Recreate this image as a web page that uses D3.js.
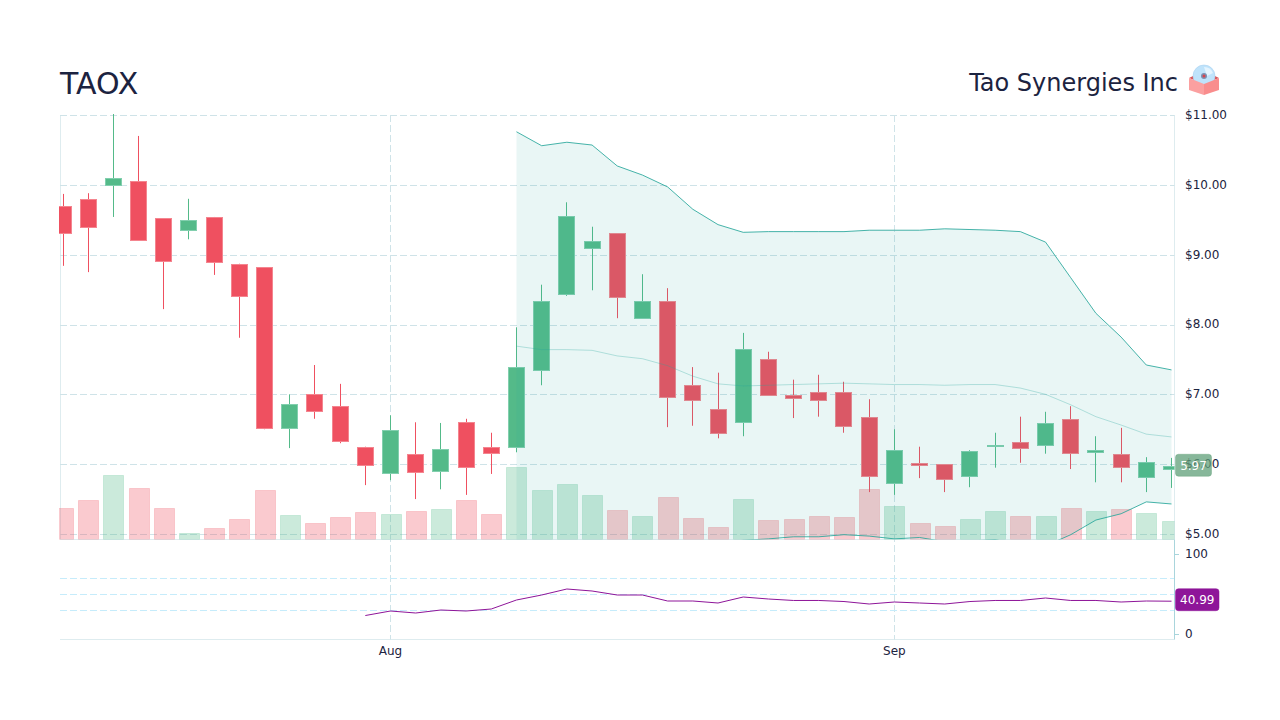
<!DOCTYPE html>
<html>
<head>
<meta charset="utf-8">
<script src="https://cdn.jsdelivr.net/npm/d3@7/dist/d3.min.js"></script>
<style>
html,body{margin:0;padding:0;background:#fff}
svg{display:block;font-family:"DejaVu Sans",sans-serif}
</style>
</head>
<body>
<svg id="chart" width="1280" height="720"></svg>
<script>
const ticker = "TAOX";
const companyName = "Tao Synergies Inc";

// Daily sessions, oldest first
const openPrice  = [9.70,9.80,10.00,10.05,9.52,9.35,9.54,8.87,8.82,6.52,7.00,6.83,6.25,5.87,6.15,5.90,6.60,6.25,6.25,7.35,8.44,9.10,9.31,8.09,8.34,7.13,6.79,6.60,7.51,6.99,7.03,7.03,6.68,5.73,6.02,6.00,5.83,6.25,6.32,6.27,6.65,6.17,6.15,5.82,5.93];
const highPrice  = [9.87,9.88,11.02,10.70,9.52,9.80,9.54,8.87,8.82,7.00,7.42,7.15,6.25,6.70,6.60,6.59,6.65,6.45,7.96,8.57,9.75,9.40,9.31,8.72,8.52,7.39,7.31,7.88,7.61,7.21,7.28,7.18,6.93,6.50,6.25,6.00,6.20,6.45,6.68,6.75,6.83,6.40,6.52,6.10,6.09];
const lowPrice   = [8.84,8.75,9.54,9.20,8.22,9.22,8.71,7.81,6.50,6.23,6.65,6.30,5.70,5.77,5.50,5.64,5.56,5.86,6.17,7.13,8.41,8.49,8.09,8.09,6.53,6.55,6.37,6.40,7.00,6.66,6.68,6.45,5.60,5.56,5.80,5.60,5.67,5.95,6.02,6.15,5.93,5.74,5.74,5.60,5.66];
const closePrice = [9.31,9.40,10.10,9.21,8.91,9.50,8.90,8.41,6.52,6.86,6.75,6.33,5.99,6.49,5.89,6.22,5.95,6.16,7.39,8.34,9.55,9.20,8.39,8.34,6.96,6.92,6.45,7.65,7.00,6.95,6.92,6.55,5.83,6.20,5.99,5.79,6.19,6.27,6.23,6.59,6.16,6.20,5.96,6.03,5.97];
const volume = [310,390,640,510,310,60,110,200,490,240,160,220,270,250,280,300,390,250,720,490,550,440,290,230,420,210,120,400,190,200,230,220,500,330,160,130,200,280,230,230,310,280,300,260,180];

// Bollinger bands, available from the 19th session on
const bandStart = 18;
const bandUpper  = [10.76,10.56,10.61,10.57,10.27,10.14,9.97,9.65,9.43,9.32,9.33,9.33,9.33,9.33,9.35,9.35,9.35,9.37,9.36,9.35,9.33,9.18,8.67,8.16,7.82,7.42,7.35];
const bandMiddle = [7.69,7.64,7.64,7.63,7.55,7.51,7.41,7.26,7.15,7.12,7.13,7.14,7.15,7.16,7.15,7.14,7.14,7.13,7.14,7.14,7.09,7.00,6.85,6.68,6.56,6.43,6.39];
const bandLower  = [4.63,4.71,4.67,4.68,4.83,4.87,4.84,4.87,4.87,4.91,4.93,4.96,4.96,4.99,4.97,4.93,4.95,4.89,4.90,4.92,4.84,4.83,4.99,5.20,5.29,5.46,5.43];

// RSI, available from the 13th session on
const rsiStart = 12;
const rsi = [23.1,28.75,26.25,30,28.75,31.25,42.5,48.75,56.25,53.75,48.75,48.75,41.25,41.25,38.75,46.25,43.75,41.9,41.9,40.6,37.5,40,38.75,37.5,40.6,41.9,41.9,45,41.9,41.9,40,41.25,40.99];

const priceTicks = [5,6,7,8,9,10,11];
const rsiTicks = [0,100];
const rsiGuides = [30,50,70];
const monthTickIndex = [13,33];
const monthTickLabels = ["Aug","Sep"];

const textColor = "#1c2340";
const up = "#54ba89", down = "#ef5060";

const svg = d3.select("#chart");
const idx = d3.range(closePrice.length);
const plotLeft = 60, plotRight = 1174.5, plotTop = 115, mainBottom = 539.5, lowBottom = 639.5;

const x = d3.scaleLinear().domain([0, closePrice.length - 1]).range([63, 1171.5]);
const y = d3.scaleLinear().domain([5, 11]).range([534, 115]);
const yVol = d3.scaleLinear().domain([0, 720]).range([539, 467]);
const yRsi = d3.scaleLinear().domain([0, 100]).range([634, 554]);
const isUp = i => closePrice[i] >= openPrice[i];
const snap = v => Math.round(v) + .5;

const defs = svg.append("defs");
defs.append("clipPath").attr("id", "mainClip").append("rect")
  .attr("x", 59).attr("y", 114).attr("width", plotRight - 59).attr("height", mainBottom - 114);

// Title row
svg.append("text").attr("x", 60).attr("y", 94).attr("font-size", 30)
  .attr("fill", textColor).text(ticker);
svg.append("text").attr("x", 1178).attr("y", 91).attr("font-size", 24)
  .attr("text-anchor", "end").attr("fill", textColor).text(companyName);

// Disc-in-a-box logo
const logo = svg.append("g");
logo.append("path").attr("d", "M1189 78 L1194 75.5 L1204 82 L1214 75.5 L1219 78 L1204 84 Z").attr("fill", "#d9565a");
logo.append("circle").attr("cx", 1204).attr("cy", 76).attr("r", 11)
  .attr("fill", "#bfe3fb").attr("stroke", "#a9d2f0").attr("stroke-width", 0.6);
logo.append("path").attr("d", "M1204 67 A9.5 9.5 0 0 1 1213 73 L1207 76 Z").attr("fill", "#e4f4fe");
logo.append("circle").attr("cx", 1204).attr("cy", 76).attr("r", 3).attr("fill", "#7d8fb0");
logo.append("circle").attr("cx", 1204).attr("cy", 76).attr("r", 1.5).attr("fill", "#d8434c");
logo.append("path").attr("d", "M1189 78 L1204 84 L1204 95 L1189 90 Z").attr("fill", "#fba0a0");
logo.append("path").attr("d", "M1219 78 L1204 84 L1204 95 L1219 90 Z").attr("fill", "#f98d8d");

// Frame
const frameColor = "#deecef";
svg.append("line").attr("x1", plotLeft + .5).attr("x2", plotLeft + .5).attr("y1", plotTop).attr("y2", mainBottom).attr("stroke", frameColor);
svg.append("line").attr("x1", plotRight).attr("x2", plotRight).attr("y1", plotTop).attr("y2", mainBottom).attr("stroke", frameColor);
svg.append("line").attr("x1", plotLeft).attr("x2", plotRight).attr("y1", mainBottom).attr("y2", mainBottom).attr("stroke", frameColor);
svg.append("line").attr("x1", plotLeft).attr("x2", plotRight).attr("y1", lowBottom).attr("y2", lowBottom).attr("stroke", frameColor);

// Grid
const gridColor = "#cfe3e8";
svg.append("g").selectAll("line").data(priceTicks).join("line")
  .attr("x1", plotLeft).attr("x2", plotRight)
  .attr("y1", d => Math.round(y(d)) + .5).attr("y2", d => Math.round(y(d)) + .5)
  .attr("stroke", gridColor).attr("stroke-dasharray", "7 3");
svg.append("g").selectAll("line").data(monthTickIndex).join("line")
  .attr("x1", d => Math.floor(x(d)) + .5).attr("x2", d => Math.floor(x(d)) + .5)
  .attr("y1", plotTop).attr("y2", lowBottom)
  .attr("stroke", gridColor).attr("stroke-dasharray", "7 3");
svg.append("g").selectAll("line").data(rsiGuides).join("line")
  .attr("x1", plotLeft).attr("x2", plotRight)
  .attr("y1", d => Math.round(yRsi(d)) + .5).attr("y2", d => Math.round(yRsi(d)) + .5)
  .attr("stroke", "#c6ecfb").attr("stroke-dasharray", "7 3");

const main = svg.append("g").attr("clip-path", "url(#mainClip)");

// Volume
const volW = 20;
main.append("g").selectAll("rect").data(idx).join("rect")
  .attr("x", i => Math.round(x(i) - volW / 2) + .5).attr("width", volW)
  .attr("y", i => snap(yVol(volume[i]))).attr("height", i => Math.round(yVol(0) - yVol(volume[i])))
  .attr("fill", i => isUp(i) ? up : down).attr("fill-opacity", .3)
  .attr("stroke", i => isUp(i) ? up : down).attr("stroke-opacity", .22);

// Candles
const bodyW = 16;
main.append("g").selectAll("line").data(idx).join("line")
  .attr("x1", i => Math.floor(x(i)) + .5).attr("x2", i => Math.floor(x(i)) + .5)
  .attr("y1", i => y(highPrice[i])).attr("y2", i => y(lowPrice[i]))
  .attr("stroke", i => isUp(i) ? up : down).attr("stroke-width", 1);
main.append("g").selectAll("rect").data(idx).join("rect")
  .attr("x", i => Math.floor(x(i)) - bodyW / 2 + .5).attr("width", bodyW)
  .attr("y", i => snap(y(Math.max(openPrice[i], closePrice[i]))))
  .attr("height", i => Math.max(1, Math.round(Math.abs(y(openPrice[i]) - y(closePrice[i])))))
  .attr("fill", i => isUp(i) ? up : down)
  .attr("stroke", i => isUp(i) ? "#82cfae" : "#f4858f").attr("stroke-width", 1);

// Bollinger band overlay
const bandIdx = d3.range(bandUpper.length);
const bandX = k => x(bandStart + k);
main.append("path")
  .attr("d", d3.area().x(bandX).y0(k => y(bandLower[k])).y1(k => y(bandUpper[k]))(bandIdx))
  .attr("fill", "#26a69a").attr("fill-opacity", .1);
const bandLine = vals => d3.line().x(bandX).y(k => y(vals[k]))(bandIdx);
main.append("path").attr("d", bandLine(bandUpper)).attr("fill", "none").attr("stroke", "#26a69a").attr("stroke-opacity", .85);
main.append("path").attr("d", bandLine(bandLower)).attr("fill", "none").attr("stroke", "#26a69a").attr("stroke-opacity", .85);
main.append("path").attr("d", bandLine(bandMiddle)).attr("fill", "none").attr("stroke", "#26a69a").attr("stroke-opacity", .3);

// RSI
svg.append("path")
  .attr("d", d3.line().x((d, k) => x(rsiStart + k)).y(d => yRsi(d))(rsi))
  .attr("fill", "none").attr("stroke", "#8e1599").attr("stroke-width", 1);

// Axes
const priceAxis = d3.axisRight(y).tickValues(priceTicks).tickSize(0).tickPadding(0)
  .tickFormat(d => "$" + d3.format(".2f")(d));
const pa = svg.append("g").attr("transform", "translate(1185,-0.4)").call(priceAxis);
pa.select(".domain").remove();

const rsiAxis = d3.axisRight(yRsi).tickValues(rsiTicks).tickSize(4.5).tickPadding(6);
const ra = svg.append("g").attr("transform", `translate(${plotRight},0)`).call(rsiAxis);
ra.select(".domain").remove();
ra.selectAll(".tick line").attr("stroke", "#a9d5dc");
svg.append("line").attr("x1", plotRight).attr("x2", plotRight).attr("y1", mainBottom).attr("y2", lowBottom).attr("stroke", "#a9d5dc");

const monthAxis = d3.axisBottom(x).tickValues(monthTickIndex).tickSize(0).tickPadding(7)
  .tickFormat((d, i) => monthTickLabels[i]);
const ma = svg.append("g").attr("transform", `translate(-0.5,${lowBottom})`).call(monthAxis);
ma.select(".domain").remove();

svg.selectAll(".tick text").attr("font-size", 12).attr("font-family", '"DejaVu Sans",sans-serif').attr("fill", textColor);

// Last-value badges
const lastClose = closePrice[closePrice.length - 1];
const lastRsi = rsi[rsi.length - 1];
function badge(cy, w, fill, opacity, label) {
  const g = svg.append("g");
  g.append("rect").attr("x", 1175.5).attr("y", cy - 11).attr("width", w).attr("height", 22).attr("rx", 3)
    .attr("fill", fill).attr("fill-opacity", opacity)
    .attr("stroke", fill).attr("stroke-opacity", opacity * .5);
  g.append("text").attr("x", 1175.5 + w / 2).attr("y", cy + 4.5).attr("text-anchor", "middle")
    .attr("font-size", 12).attr("fill", "#fff").text(label);
}
badge(y(lastClose) - 1, 36, "#5f9f78", .75, d3.format(".2f")(lastClose));
badge(yRsi(lastRsi) - 1.5, 43.5, "#8e1599", 1, d3.format(".2f")(lastRsi));
</script>
</body>
</html>
